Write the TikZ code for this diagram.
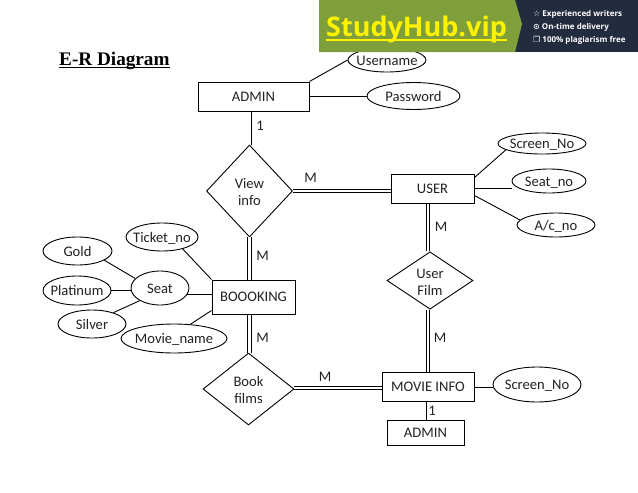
\documentclass[tikz,border=0pt]{standalone}
\usepackage{fontspec}
\setmainfont{Carlito}
\newfontfamily\timesf{Liberation Serif}
\newfontfamily\hubf{Open Sans}
\newfontfamily\dejaf{DejaVu Sans}
\usetikzlibrary{shapes.geometric}
\definecolor{bannergreen}{HTML}{7F9F3A}
\definecolor{bannerdark}{HTML}{232B3E}
\definecolor{hubyellow}{HTML}{FFF200}
\definecolor{inktext}{HTML}{222222}
\newcommand{\attxt}[1]{\makebox[0pt]{#1}}
\tikzset{
  lbl/.style={font=\fontsize{14.6}{17.5}\selectfont, text=inktext, inner sep=0pt},
  ent/.style={draw=black, line width=1pt, rectangle, inner sep=0pt, lbl},
  attr/.style={draw=black, line width=0.9pt, ellipse, inner sep=0pt, fill=white, lbl, text height=10.6pt, text depth=0pt},
  rel/.style={draw=black, line width=0.9pt, diamond, inner sep=0pt, align=center, lbl, text height=30pt},
  link/.style={draw=black, line width=0.9pt},
  dbl/.style={draw=black, line width=0.9pt, double=white, double distance=2.4pt},
  sz/.style 2 args={minimum width=#1pt, minimum height=#2pt},
  ban/.style={font=\hubf\bfseries\fontsize{8}{9}\selectfont, text=white, inner sep=0pt, anchor=west}
}
\begin{document}
\begin{tikzpicture}[x=1pt,y=-1pt]
\useasboundingbox (0,0) rectangle (638,493);
% entities
\node[ent, sz={111}{29}] (admin) at (253.5,96.5) {ADMIN};
\node[ent, sz={83}{34}] (book) at (253.5,297) {BOOOKING};
\node[ent, sz={83}{29}] (user) at (432.5,188.5) {USER};
\node[ent, sz={92}{29}] (movie) at (428,386.5) {MOVIE INFO};
\node[ent, sz={77}{25}] (admintwo) at (425.5,432.5) {ADMIN};
% relationships
\node[rel, sz={86}{92}] (view) at (249.5,191) {View\\info};
\node[rel, sz={91}{72}] (bookf) at (248.5,389) {Book\\films};
\node[rel, sz={86}{57}] (uf) at (430,280.5) {User\\Film};
% attributes
\node[attr, sz={78}{24}] (uname) at (387,60) {\attxt{Username}};
\node[attr, sz={93}{27}] (pass) at (413.5,96) {\attxt{Password}};
\node[attr, sz={88}{21}] (scrone) at (542,143.5) {\attxt{Screen\_No}};
\node[attr, sz={74}{24}] (seatno) at (549,181) {\attxt{Seat\_no}};
\node[attr, sz={78}{24}] (acno) at (556,225) {\attxt{A/c\_no}};
\node[attr, sz={88}{35}] (scrtwo) at (537,384.5) {\attxt{Screen\_No}};
\node[attr, sz={72}{28}] (ticket) at (162,237) {\attxt{Ticket\_no}};
\node[attr, sz={69}{28}] (gold) at (77.5,251) {\attxt{Gold}};
\node[attr, sz={68}{29}] (plat) at (77,290.5) {\attxt{Platinum}};
\node[attr, sz={58}{34}] (seat) at (160,288) {\attxt{Seat}};
\node[attr, sz={68}{28}] (silver) at (92,324) {\attxt{Silver}};
\node[attr, sz={106}{29}] (mname) at (174,338.5) {\attxt{Movie\_name}};
% single connectors
\draw[link] (admin.south -| view.north) ++(1.5,0) coordinate (adminfoot) -- (adminfoot |- view.north);
\draw[link] (admin.north east) -- (uname.180);
\draw[link] (admin.east |- pass.west) -- (pass.west);
\draw[link] (user.north east) ++(0,4) coordinate (userone) -- (scrone.-170);
\draw[link] (user.east |- seatno.south) ++(0,-5) coordinate (usertwo) -- (usertwo -| seatno.west);
\draw[link] (user.south east) ++(0,-8) coordinate (userthree) -- (acno.172);
\draw[link] (movie.east |- scrtwo.west) ++(0,3) coordinate (movieone) -- (movieone -| scrtwo.west);
\draw[link] (movie.south) ++(-2,0) coordinate (movietwo) -- (movietwo |- admintwo.north);
\draw[link] (ticket.-30) -- (book.north west);
\path (book.south west) ++(0,-4) coordinate (bookwest);
\draw[link] (mname.41) -- (bookwest);
\draw[link] (seat.-13) -- (seat.-13 -| book.west);
\draw[link] (gold.-19) -- (seat.159);
\draw[link] (plat.east) -- (plat.east -| seat.west);
\draw[link] (silver.28) -- (seat.-148);
% double connectors
\draw[dbl] (view.south) -- (view.south |- book.north);
\draw[dbl] (view.south |- book.south) -- (view.south |- bookf.north);
\draw[dbl] (view.east) -- (view.east -| user.west);
\draw[dbl] (bookf.east) ++(0,-1) coordinate (bookfe) -- (bookfe -| movie.west);
\draw[dbl] (user.south) ++(-4.5,0) coordinate (userfoot) -- (userfoot |- uf.north);
\draw[dbl] (userfoot |- uf.south) -- (userfoot |- movie.north);
% cardinalities
\node[lbl] (ca) at (260,125.5) {1};
\node[lbl] (cb) at (310.5,178) {M};
\node[lbl] (cc) at (262.5,256) {M};
\node[lbl] (cd) at (262.5,338) {M};
\node[lbl] (ce) at (441,227) {M};
\node[lbl] (cf) at (440,338) {M};
\node[lbl] (cg) at (325,376.5) {M};
\node[lbl] (ch) at (432,411) {1};
% title
\node[font=\timesf\bfseries\fontsize{19.2}{22}\selectfont, inner sep=0pt, anchor=base west] (title) at (59,65) {E-R Diagram};
\draw[line width=1.1pt] (title.base west) ++(0,2.6) coordinate (tl) -- (tl -| title.east);
% banner
\fill[bannerdark] (500,0) rectangle (638,52);
\fill[bannergreen] (319,0) -- (515,0) -- (522,24) -- (515,52) -- (319,52) -- cycle;
\node[font=\hubf\bfseries\fontsize{27}{30}\selectfont, text=hubyellow, inner sep=0pt, anchor=base west] (hub) at (326,36) {StudyHub.vip};
\draw[hubyellow, line width=2pt] (hub.base west) ++(0,4) coordinate (hl) -- (hl -| hub.east);
\node[ban] (ba) at (533,14) {{\dejaf ☆} Experienced writers};
\node[ban] (bb) at (533,27) {{\dejaf ⊙} On-time delivery};
\node[ban] (bc) at (533,40) {{\dejaf ❐} 100\% plagiarism free};
\end{tikzpicture}
\end{document}
